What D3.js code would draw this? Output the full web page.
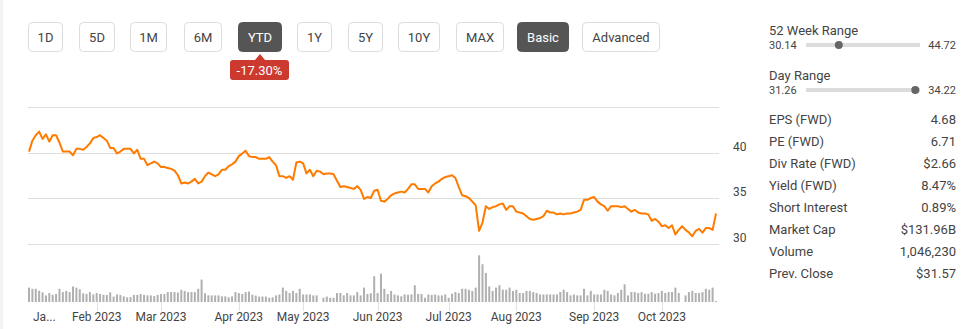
<!DOCTYPE html>
<html>
<head>
<meta charset="utf-8">
<script src="https://cdn.jsdelivr.net/npm/d3@7"></script>
<style>
  body { margin: 0; background: #fff; }
  text { font-family: Roboto, "Noto Sans", sans-serif; }
</style>
</head>
<body>
<div id="chart"></div>
<script>
// range buttons
const buttons = ["1D", "5D", "1M", "6M", "YTD", "1Y", "5Y", "10Y", "MAX", "Basic", "Advanced"];
const activeButtons = ["YTD", "Basic"];
const ytdChange = "-17.30%";

// closing price per trading day, Jan 3 2023 .. Oct 24 2023
const prices = [
  40.1, 41.3, 41.9, 42.3, 41.5, 42.0, 41.2, 41.9, 41.9, 41.1,
  40.1, 40.1, 40.1, 39.7, 40.4, 40.4, 40.3, 40.6, 41.0, 41.6,
  41.7, 41.9, 41.6, 41.3, 40.5, 40.5, 39.9, 40.1, 40.4, 40.4,
  40.4, 39.9, 40.3, 39.3, 39.3, 38.6, 38.8, 39.0, 38.8, 38.4,
  38.4, 38.3, 38.2, 38.0, 37.5, 36.6, 36.7, 36.6, 36.8, 37.1,
  36.6, 36.8, 37.4, 37.8, 37.6, 37.4, 37.6, 38.1, 38.1, 38.5,
  38.7, 39.0, 39.6, 39.9, 40.2, 39.6, 39.5, 39.5, 39.3, 39.3,
  39.3, 39.5, 39.0, 38.6, 37.4, 37.4, 37.2, 37.4, 37.0, 38.9,
  39.0, 38.8, 37.7, 38.1, 37.4, 38.0, 37.9, 37.6, 37.7, 37.7,
  37.6, 36.9, 36.2, 36.3, 36.2, 36.1, 36.0, 36.3, 35.9, 34.9,
  35.1, 35.0, 35.8, 35.9, 34.7, 34.6, 34.9, 35.3, 35.5, 35.6,
  35.7, 35.6, 36.0, 36.5, 36.5, 36.0, 36.0, 36.0, 35.6, 36.3,
  36.6, 36.8, 37.1, 37.3, 37.4, 37.5, 37.2, 36.2, 35.3, 35.2,
  35.0, 34.6, 34.2, 31.4, 32.3, 34.1, 33.8, 34.0, 34.1, 34.3,
  34.4, 33.7, 34.1, 34.1, 33.5, 33.4, 33.3, 33.0, 32.7, 32.6,
  32.7, 32.8, 33.0, 33.6, 33.4, 33.4, 33.2, 33.3, 33.2, 33.3,
  33.3, 33.4, 33.5, 33.7, 34.8, 34.8, 35.0, 35.1, 34.6, 34.3,
  34.1, 33.6, 34.1, 34.1, 34.1, 34.0, 34.1, 33.8, 33.5, 33.7,
  33.4, 33.3, 33.3, 33.2, 32.5, 32.7, 32.4, 31.9, 32.0, 31.7,
  32.0, 31.0, 31.5, 31.9, 31.5, 31.2, 30.8, 31.4, 31.6, 31.2,
  31.7, 31.7, 31.5, 33.3
];

// volume per trading day, millions of shares
const volumes = [
  6.1, 5.6, 5.6, 4.8, 4.1, 2.8, 3.8, 3.0, 3.4, 5.6,
  4.2, 4.7, 4.2, 6.6, 6.1, 5.4, 3.7, 3.4, 4.2, 3.2,
  3.8, 3.4, 3.1, 3.0, 4.1, 2.3, 3.2, 3.0, 2.4, 2.0,
  2.1, 3.0, 3.0, 3.4, 3.0, 2.8, 2.8, 2.5, 3.0, 3.4,
  3.4, 4.2, 4.2, 4.2, 4.0, 5.2, 4.7, 4.2, 4.2, 4.2,
  5.6, 9.5, 3.7, 2.8, 2.8, 2.8, 2.8, 2.4, 2.4, 2.0,
  2.4, 4.2, 3.8, 3.4, 4.2, 4.4, 3.1, 2.7, 2.3, 2.3,
  2.3, 1.8, 2.0, 2.8, 3.2, 6.1, 4.7, 3.8, 4.7, 3.8,
  5.6, 3.2, 3.2, 3.2, 2.8, 2.8, 0, 1.8, 2.3, 1.8,
  1.8, 3.8, 3.8, 2.8, 3.8, 2.8, 2.8, 4.2, 2.8, 6.1,
  3.4, 3.7, 10.9, 3.8, 12.0, 5.6, 3.4, 4.7, 3.2, 2.8,
  2.4, 3.2, 3.1, 3.2, 7.1, 3.4, 3.4, 1.8, 3.2, 3.0,
  3.2, 2.8, 2.8, 3.2, 1.8, 3.5, 4.2, 3.8, 5.6, 5.6,
  5.2, 4.7, 6.1, 19.8, 16.0, 12.3, 6.6, 4.7, 6.1, 7.1,
  5.2, 5.2, 6.1, 4.7, 5.2, 3.8, 3.8, 4.7, 4.7, 4.2,
  3.8, 3.2, 3.2, 3.2, 3.2, 3.2, 3.2, 4.2, 5.2, 4.2,
  2.8, 3.2, 2.8, 2.8, 5.6, 2.8, 4.7, 3.2, 3.2, 3.2,
  5.2, 4.7, 3.2, 2.8, 3.8, 5.2, 7.5, 2.8, 4.2, 4.2,
  3.8, 4.2, 3.5, 3.5, 4.2, 3.5, 3.8, 4.7, 3.8, 4.2,
  4.2, 6.1, 3.8, 0, 2.8, 4.2, 4.7, 3.8, 3.8, 4.2,
  5.6, 5.2, 6.1, 0.4
];

// x axis: trading-day index of each month start
const monthTickIdx = [20, 39, 62, 81, 103, 124, 144, 167, 187];
const monthTickLabels = ["Feb 2023", "Mar 2023", "Apr 2023", "May 2023", "Jun 2023",
  "Jul 2023", "Aug 2023", "Sep 2023", "Oct 2023"];
const firstLabel = "Ja...";

const priceGrid = [30, 35, 40, 45];
const priceTicks = [30, 35, 40];

// side panel
const rangeNames = ["52 Week Range", "Day Range"];
const rangeLow = [30.14, 31.26];
const rangeHigh = [44.72, 34.22];
const rangeNow = [34.2, 34.2];
const statLabels = ["EPS (FWD)", "PE (FWD)", "Div Rate (FWD)", "Yield (FWD)", "Short Interest",
  "Market Cap", "Volume", "Prev. Close"];
const statValues = ["4.68", "6.71", "$2.66", "8.47%", "0.89%", "$131.96B", "1,046,230", "$31.57"];

const W = 970, H = 329;
const svg = d3.select("#chart").append("svg")
  .attr("width", W).attr("height", H);

svg.append("rect").attr("x", 0).attr("y", 0).attr("width", 3).attr("height", H)
  .attr("fill", "#f3f3f3");

// ---- buttons (left edge and width of each)
const btnX = [28, 79, 130, 184, 238, 297, 348, 398, 456, 517, 582];
const btnW = [35, 36, 37, 38, 44, 35, 35, 42, 48, 52, 78];
const btnG = svg.append("g");
buttons.forEach((b, i) => {
  const active = activeButtons.includes(b);
  const bx = btnX[i];
  const g = btnG.append("g").attr("transform", `translate(${bx},22)`);
  g.append("rect")
    .attr("x", 0.5).attr("y", 0.5)
    .attr("width", btnW[i] - 1).attr("height", 29)
    .attr("rx", 4)
    .attr("fill", active ? "#555" : "#fff")
    .attr("stroke", active ? "#555" : "#ddd");
  g.append("text")
    .attr("x", btnW[i] / 2).attr("y", 15)
    .attr("dy", "0.35em")
    .attr("text-anchor", "middle")
    .attr("font-size", 13)
    .attr("fill", active ? "#fff" : "#444")
    .text(b);
  if (b === "YTD") {
    const cx = bx + btnW[i] / 2;
    svg.append("path")
      .attr("d", `M${cx - 5},60 L${cx},54 L${cx + 5},60 Z`)
      .attr("fill", "#cc3a2f");
    svg.append("rect")
      .attr("x", cx - 30).attr("y", 60).attr("width", 59).attr("height", 20)
      .attr("rx", 3).attr("fill", "#cc3a2f");
    svg.append("text")
      .attr("x", cx - 0.5).attr("y", 70).attr("dy", "0.35em")
      .attr("text-anchor", "middle").attr("font-size", 13)
      .attr("fill", "#fff").text(ytdChange);
  }
});

// ---- price chart
const xScale = d3.scaleLinear()
  .domain([0, prices.length - 1])
  .range([29, 716]);

const yScale = d3.scaleLinear()
  .domain([30, 45])
  .range([243.5, 107]);

const vScale = d3.scaleLinear()
  .domain([0, 25])
  .range([302, 243]);

svg.append("g").selectAll("line")
  .data(priceGrid)
  .join("line")
  .attr("x1", 28).attr("x2", 719)
  .attr("y1", d => Math.round(yScale(d)) + 0.5)
  .attr("y2", d => Math.round(yScale(d)) + 0.5)
  .attr("stroke", "#dedede");

svg.append("g").selectAll("text")
  .data(priceTicks)
  .join("text")
  .attr("x", 733)
  .attr("y", d => yScale(d) - 6)
  .attr("dy", "0.35em")
  .attr("font-size", 12)
  .attr("fill", "#444")
  .text(d => d);

// volume bars
svg.append("g").selectAll("rect")
  .data(volumes)
  .join("rect")
  .attr("x", (d, i) => xScale(i) - 1)
  .attr("y", d => vScale(d))
  .attr("width", 2)
  .attr("height", d => vScale(0) - vScale(d))
  .attr("fill", "#b0b0b0");

// price line
const line = d3.line()
  .x((d, i) => xScale(i))
  .y(d => yScale(d));

svg.append("path")
  .datum(prices)
  .attr("d", line)
  .attr("fill", "none")
  .attr("stroke", "#ff7b00")
  .attr("stroke-width", 2)
  .attr("stroke-linejoin", "round");

// x axis ticks and labels
const xAxisG = svg.append("g");
xAxisG.selectAll("line")
  .data(monthTickIdx)
  .join("line")
  .attr("x1", d => Math.round(xScale(d)) + 0.5)
  .attr("x2", d => Math.round(xScale(d)) + 0.5)
  .attr("y1", 302).attr("y2", 311)
  .attr("stroke", "#e2e2e2");
xAxisG.selectAll("text")
  .data(monthTickIdx)
  .join("text")
  .attr("x", d => xScale(d))
  .attr("y", 317)
  .attr("dy", "0.35em")
  .attr("text-anchor", "middle")
  .attr("font-size", 12)
  .attr("fill", "#444")
  .text((d, i) => monthTickLabels[i]);
xAxisG.append("text")
  .attr("x", 33).attr("y", 317).attr("dy", "0.35em")
  .attr("font-size", 12).attr("fill", "#444")
  .text(firstLabel);

// ---- side panel
const panel = svg.append("g");
rangeNames.forEach((name, i) => {
  const top = 30 + i * 45;
  panel.append("text")
    .attr("x", 769).attr("y", top).attr("dy", "0.35em")
    .attr("font-size", 13).attr("fill", "#444").text(name);
  panel.append("text")
    .attr("x", 769).attr("y", top + 15).attr("dy", "0.35em")
    .attr("font-size", 11).attr("fill", "#444").text(rangeLow[i].toFixed(2));
  panel.append("text")
    .attr("x", 956).attr("y", top + 15).attr("dy", "0.35em")
    .attr("text-anchor", "end")
    .attr("font-size", 11).attr("fill", "#444").text(rangeHigh[i].toFixed(2));
  const s = d3.scaleLinear().domain([rangeLow[i], rangeHigh[i]]).range([809, 916]).clamp(true);
  panel.append("rect")
    .attr("x", 806).attr("y", top + 13).attr("width", 114).attr("height", 4)
    .attr("fill", "#dcdcdc");
  panel.append("circle")
    .attr("cx", s(rangeNow[i])).attr("cy", top + 15).attr("r", 4)
    .attr("fill", "#666");
});

statLabels.forEach((lab, i) => {
  const y = 119.5 + i * 22;
  panel.append("text")
    .attr("x", 769).attr("y", y).attr("dy", "0.35em")
    .attr("font-size", 13).attr("fill", "#444").text(lab);
  panel.append("text")
    .attr("x", 956).attr("y", y).attr("dy", "0.35em")
    .attr("text-anchor", "end")
    .attr("font-size", 13).attr("fill", "#444").text(statValues[i]);
});
</script>
</body>
</html>
